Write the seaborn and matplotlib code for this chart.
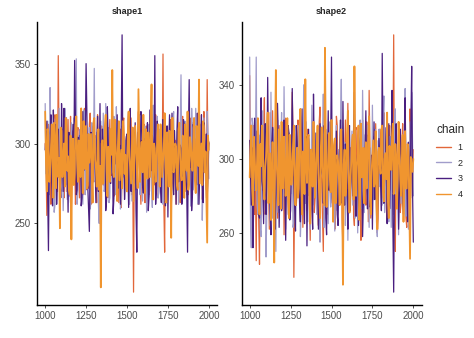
import numpy as np
import pandas as pd
import matplotlib
matplotlib.use("Agg")
import matplotlib.pyplot as plt
import seaborn as sns
from matplotlib.lines import Line2D

iterations_a = list(range(1000, 2001, 10))
iterations_b = list(range(1005, 2000, 10))
chains = ["1", "2", "3", "4"]
chain_colors = ["#E2673A", "#A19DCB", "#4A1F80", "#F0952F"]
params = ["shape1", "shape2"]
x_ticks = [1000, 1250, 1500, 1750, 2000]
y_ticks = {"shape1": [250, 300, 350], "shape2": [260, 300, 340]}

# ---- shape1, iterations 1000, 1010, ... 2000
shape1_c1_a = [300, 255, 312, 278, 296, 268, 318, 284, 355, 262,
               305, 281, 298, 270, 315, 287, 259, 308, 292, 275,
               310, 266, 300, 283, 322, 271, 294, 312, 262, 288,
               303, 276, 318, 290, 258, 299, 285, 314, 270, 296,
               281, 325, 267, 301, 290, 263, 309, 279, 316, 286,
               272, 305, 293, 268, 207, 298, 280, 320, 274, 302,
               289, 263, 311, 284, 296, 270, 318, 281, 300, 266,
               306, 290, 356, 232, 297, 279, 312, 268, 301, 285,
               262, 309, 291, 276, 317, 283, 270, 304, 295, 261,
               313, 280, 298, 272, 308, 286, 265, 320, 277, 340, 300]
shape1_c2_a = [325, 290, 272, 335, 283, 301, 262, 318, 295, 276,
               309, 258, 322, 287, 300, 267, 313, 280, 296, 353,
               271, 305, 284, 262, 319, 292, 276, 310, 264, 299,
               347, 278, 301, 250, 314, 286, 270, 325, 293, 263,
               306, 281, 317, 268, 297, 287, 259, 311, 279, 302,
               271, 320, 288, 264, 305, 293, 277, 315, 268, 298,
               283, 311, 257, 300, 289, 272, 324, 281, 295, 266,
               309, 285, 262, 318, 291, 276, 303, 259, 314, 288,
               270, 307, 283, 343, 266, 297, 312, 274, 290, 261,
               305, 283, 322, 269, 299, 287, 252, 316, 281, 320, 278]
shape1_c3_a = [296, 314, 233, 302, 276, 321, 288, 262, 309, 283,
               325, 270, 300, 316, 257, 293, 279, 312, 352, 268,
               304, 286, 261, 320, 290, 350, 274, 245, 307, 282,
               298, 263, 317, 284, 271, 309, 293, 258, 323, 287,
               275, 311, 266, 300, 318, 282, 262, 368, 290, 277,
               306, 260, 322, 288, 275, 313, 232, 299, 284, 317,
               269, 303, 290, 258, 321, 283, 297, 355, 272, 305,
               287, 263, 315, 279, 300, 254, 318, 291, 275, 308,
               262, 323, 286, 297, 271, 312, 280, 232, 340, 293,
               268, 307, 285, 319, 262, 298, 276, 313, 289, 266, 301]
shape1_c4_a = [320, 270, 305, 284, 312, 266, 298, 318, 279, 247,
               308, 287, 273, 315, 292, 268, 240, 303, 281, 317,
               276, 300, 322, 269, 295, 311, 274, 288, 306, 263,
               316, 285, 297, 271, 210, 302, 290, 318, 267, 294,
               309, 346, 279, 300, 264, 314, 287, 272, 305, 293,
               270, 320, 283, 298, 264, 311, 288, 334, 276, 301,
               318, 269, 292, 307, 279, 337, 265, 297, 284, 312,
               273, 302, 288, 319, 263, 295, 308, 241, 316, 285,
               298, 271, 313, 280, 305, 266, 291, 320, 276, 300,
               283, 316, 269, 303, 340, 287, 274, 311, 295, 238, 296]

# ---- shape1, iterations 1005, 1015, ... 1995
shape1_c1_b = [290, 275, 308, 262, 299, 283, 314, 270, 296, 281,
               309, 266, 301, 288, 273, 317, 284, 297, 262, 306,
               279, 293, 312, 268, 300, 285, 272, 319, 290, 276,
               305, 263, 298, 282, 311, 274, 302, 289, 266, 315,
               280, 296, 271, 307, 285, 298, 260, 312, 278, 303,
               291, 267, 316, 283, 300, 274, 309, 287, 262, 297,
               312, 279, 293, 268, 305, 286, 274, 318, 290, 271,
               300, 283, 264, 309, 295, 277, 315, 288, 270, 302,
               284, 297, 263, 311, 279, 306, 291, 268, 316, 285,
               274, 303, 289, 262, 312, 296, 280, 307, 271, 293]
shape1_c2_b = [281, 314, 268, 302, 290, 257, 310, 285, 322, 270,
               296, 283, 311, 265, 299, 288, 275, 316, 292, 262,
               305, 279, 294, 321, 268, 301, 286, 259, 313, 290,
               276, 307, 263, 298, 284, 319, 272, 295, 310, 266,
               288, 301, 274, 323, 280, 295, 265, 309, 289, 276,
               315, 262, 299, 284, 307, 271, 293, 318, 280, 264,
               302, 288, 274, 312, 296, 260, 306, 283, 317, 270,
               292, 301, 278, 264, 311, 286, 297, 272, 320, 283,
               296, 262, 309, 289, 275, 314, 268, 301, 285, 322,
               271, 294, 307, 262, 290, 313, 278, 299, 266, 305]
shape1_c3_b = [305, 270, 292, 318, 261, 297, 312, 279, 288, 266,
               301, 322, 274, 290, 307, 263, 296, 284, 315, 271,
               293, 309, 266, 283, 302, 318, 260, 291, 276, 311,
               286, 299, 270, 325, 280, 296, 311, 264, 302, 279,
               294, 256, 308, 287, 272, 299, 316, 281, 265, 304,
               289, 312, 270, 296, 283, 258, 307, 291, 320, 274,
               298, 284, 313, 267, 290, 305, 276, 262, 314, 288,
               272, 302, 290, 261, 311, 296, 282, 319, 268, 294,
               307, 276, 299, 262, 315, 288, 271, 304, 285, 258,
               312, 291, 274, 300, 284, 318, 263, 295, 306, 279]
shape1_c4_b = [288, 309, 276, 296, 285, 313, 272, 304, 291, 310,
               279, 300, 316, 283, 271, 305, 292, 274, 311, 290,
               302, 279, 293, 314, 284, 272, 306, 297, 280, 313,
               290, 273, 309, 286, 300, 275, 311, 283, 298, 276,
               293, 282, 315, 290, 301, 277, 296, 314, 281, 273,
               306, 292, 275, 310, 287, 299, 272, 305, 293, 282,
               290, 309, 278, 296, 314, 283, 300, 276, 305, 288,
               312, 279, 298, 285, 307, 273, 292, 316, 282, 300,
               274, 309, 291, 277, 296, 312, 283, 271, 304, 290,
               298, 278, 311, 286, 275, 300, 314, 282, 268, 305]

# ---- shape2, iterations 1000, 1010, ... 2000
shape2_c1_a = [345, 285, 312, 270, 245, 320, 243, 305, 290, 333,
               276, 314, 262, 300, 326, 281, 297, 268, 318, 287,
               303, 259, 322, 291, 274, 310, 336, 236, 299, 284,
               317, 266, 305, 290, 331, 272, 308, 256, 295, 320,
               279, 301, 264, 328, 287, 250, 312, 296, 270, 318,
               289, 305, 262, 323, 280, 298, 314, 252, 301, 285,
               330, 271, 296, 309, 264, 317, 283, 300, 256, 321,
               290, 275, 313, 337, 268, 302, 286, 319, 260, 297,
               310, 279, 325, 292, 266, 304, 288, 330, 367, 250,
               299, 316, 271, 308, 284, 322, 263, 301, 327, 289, 305]
shape2_c2_a = [355, 252, 318, 283, 355, 270, 302, 258, 326, 291,
               247, 312, 284, 336, 268, 299, 250, 321, 287, 305,
               273, 339, 262, 296, 314, 281, 327, 266, 301, 289,
               318, 258, 305, 340, 276, 293, 311, 262, 329, 285,
               300, 270, 316, 255, 292, 335, 279, 306, 265, 320,
               287, 302, 261, 318, 294, 277, 343, 268, 309, 284,
               256, 313, 297, 275, 324, 290, 260, 308, 282, 337,
               271, 300, 318, 263, 294, 329, 278, 304, 258, 316,
               290, 275, 334, 283, 301, 266, 312, 295, 270, 327,
               285, 259, 316, 300, 274, 338, 291, 262, 320, 336, 280]
shape2_c3_a = [310, 275, 252, 322, 289, 301, 268, 333, 284, 296,
               270, 344, 286, 259, 317, 295, 278, 330, 263, 307,
               290, 321, 256, 300, 314, 272, 338, 285, 261, 309,
               296, 266, 327, 281, 304, 253, 316, 290, 273, 335,
               283, 301, 262, 319, 293, 276, 310, 259, 326, 287,
               355, 271, 298, 315, 264, 306, 289, 331, 275, 300,
               262, 318, 294, 280, 336, 269, 303, 287, 314, 258,
               297, 326, 273, 308, 285, 262, 320, 291, 270, 311,
               288, 357, 276, 302, 265, 319, 293, 337, 228, 305,
               281, 262, 316, 297, 270, 333, 288, 309, 264, 350, 255]
shape2_c4_a = [290, 318, 275, 305, 283, 322, 270, 296, 311, 278,
               301, 325, 285, 267, 309, 244, 348, 288, 316, 273,
               297, 312, 280, 322, 268, 303, 291, 318, 275, 306,
               284, 327, 270, 300, 343, 287, 313, 265, 298, 320,
               279, 308, 292, 268, 317, 285, 360, 274, 302, 290,
               321, 266, 311, 288, 299, 275, 316, 232, 305, 284,
               326, 271, 297, 313, 350, 280, 302, 267, 319, 291,
               276, 309, 294, 323, 270, 301, 285, 315, 262, 306,
               292, 318, 277, 303, 325, 268, 296, 312, 281, 308,
               273, 320, 289, 300, 266, 315, 284, 306, 246, 294, 300]

# ---- shape2, iterations 1005, 1015, ... 1995
shape2_c1_b = [300, 276, 318, 291, 306, 268, 297, 283, 314, 270,
               302, 289, 325, 278, 295, 262, 310, 286, 299, 273,
               317, 290, 280, 306, 269, 298, 312, 284, 275, 321,
               293, 305, 263, 301, 288, 316, 279, 297, 310, 271,
               304, 286, 320, 293, 268, 301, 282, 313, 290, 276,
               309, 296, 272, 318, 284, 305, 267, 299, 321, 288,
               278, 306, 292, 270, 315, 287, 301, 274, 310, 295,
               283, 320, 266, 303, 291, 312, 279, 297, 268, 316,
               292, 285, 307, 274, 300, 318, 283, 296, 271, 309,
               287, 301, 276, 319, 293, 268, 305, 290, 312, 280]
shape2_c2_b = [268, 322, 290, 305, 276, 313, 262, 299, 287, 318,
               275, 302, 264, 292, 316, 283, 307, 271, 296, 325,
               283, 301, 312, 270, 292, 305, 263, 318, 286, 299,
               307, 274, 293, 283, 320, 266, 301, 289, 275, 312,
               296, 284, 270, 309, 301, 263, 316, 288, 298, 274,
               311, 280, 296, 272, 305, 319, 286, 293, 264, 308,
               291, 279, 315, 302, 268, 296, 284, 321, 273, 300,
               313, 287, 295, 306, 272, 290, 316, 266, 301, 285,
               305, 320, 271, 296, 289, 312, 263, 304, 318, 281,
               298, 307, 276, 286, 313, 269, 302, 291, 279, 310]
shape2_c3_b = [292, 306, 278, 301, 315, 270, 312, 288, 265, 319,
               290, 301, 272, 308, 283, 262, 297, 311, 285, 272,
               304, 282, 295, 318, 267, 293, 306, 274, 318, 287,
               275, 303, 290, 265, 312, 296, 280, 305, 262, 299,
               314, 287, 278, 306, 291, 318, 268, 297, 283, 310,
               279, 305, 286, 270, 298, 321, 276, 292, 308, 285,
               311, 272, 299, 316, 283, 297, 264, 309, 291, 277,
               305, 288, 313, 274, 302, 296, 278, 310, 284, 300,
               272, 304, 290, 317, 283, 273, 307, 265, 294, 319,
               297, 282, 304, 276, 311, 290, 266, 301, 318, 285]
shape2_c4_b = [306, 284, 312, 290, 299, 277, 308, 318, 285, 296,
               314, 276, 303, 292, 281, 310, 297, 275, 302, 320,
               284, 300, 291, 277, 313, 286, 307, 283, 296, 279,
               315, 292, 304, 281, 296, 311, 277, 305, 285, 301,
               292, 318, 280, 306, 295, 275, 311, 287, 314, 282,
               298, 307, 276, 302, 290, 312, 284, 297, 280, 313,
               293, 287, 309, 278, 301, 296, 318, 283, 290, 306,
               299, 284, 315, 278, 293, 310, 288, 275, 304, 297,
               316, 282, 300, 289, 277, 307, 294, 319, 285, 302,
               291, 306, 280, 313, 297, 284, 308, 275, 301, 293]

series = {
    "shape1": [(shape1_c1_a, shape1_c1_b), (shape1_c2_a, shape1_c2_b),
               (shape1_c3_a, shape1_c3_b), (shape1_c4_a, shape1_c4_b)],
    "shape2": [(shape2_c1_a, shape2_c1_b), (shape2_c2_a, shape2_c2_b),
               (shape2_c3_a, shape2_c3_b), (shape2_c4_a, shape2_c4_b)],
}

rows = []
for p in params:
    for ch, (va, vb) in zip(chains, series[p]):
        for it, v in zip(iterations_a, va):
            rows.append({"param": p, "chain": ch, "iteration": it, "value": v})
        for it, v in zip(iterations_b, vb):
            rows.append({"param": p, "chain": ch, "iteration": it, "value": v})
df = pd.DataFrame(rows).sort_values(["param", "chain", "iteration"])

sns.set_theme(style="ticks")
plt.rcParams["font.family"] = ["Liberation Sans", "DejaVu Sans"]

fig = plt.figure(figsize=(4.74, 3.38), dpi=100)
W, H = 474, 338
boxes = [(37, 22, 180, 283), (241.5, 22, 180, 283)]
line_widths = {"1": 0.9, "2": 0.9, "3": 0.9, "4": 1.3}

for p, (l, t, w, h) in zip(params, boxes):
    ax = fig.add_axes([l / W, 1 - (t + h) / H, w / W, h / H])
    sub = df[df["param"] == p]
    for ch, col in zip(chains, chain_colors):
        sns.lineplot(data=sub[sub["chain"] == ch], x="iteration", y="value",
                     color=col, estimator=None, sort=False,
                     linewidth=line_widths[ch], legend=False, ax=ax)
    vmin, vmax = sub["value"].min(), sub["value"].max()
    pad = (vmax - vmin) * 0.05
    ax.set_ylim(vmin - pad, vmax + pad)
    ax.set_xlim(950, 2050)
    ax.set_xticks(x_ticks)
    ax.set_yticks(y_ticks[p])
    ax.set_xlabel("")
    ax.set_ylabel("")
    ax.set_title(p, fontsize=6.5, fontweight="bold", pad=6)
    for s in ["top", "right"]:
        ax.spines[s].set_visible(False)
    for s in ["left", "bottom"]:
        ax.spines[s].set_linewidth(1.0)
        ax.spines[s].set_color("black")
    ax.tick_params(axis="both", labelsize=7, colors="#4D4D4D", length=2.5,
                   width=0.6, pad=2)
    ax.tick_params(axis="both", color="#333333")

handles = [Line2D([0], [0], color=c, lw=1.0) for c in chain_colors]
fig.legend(handles, chains, title="chain", loc="center left",
           bbox_to_anchor=(428 / W, 0.522), frameon=False, fontsize=6.5,
           title_fontsize=8.5, handlelength=1.6, labelspacing=0.75,
           handletextpad=0.8, alignment="left")

fig.savefig("out.png", dpi=100)
